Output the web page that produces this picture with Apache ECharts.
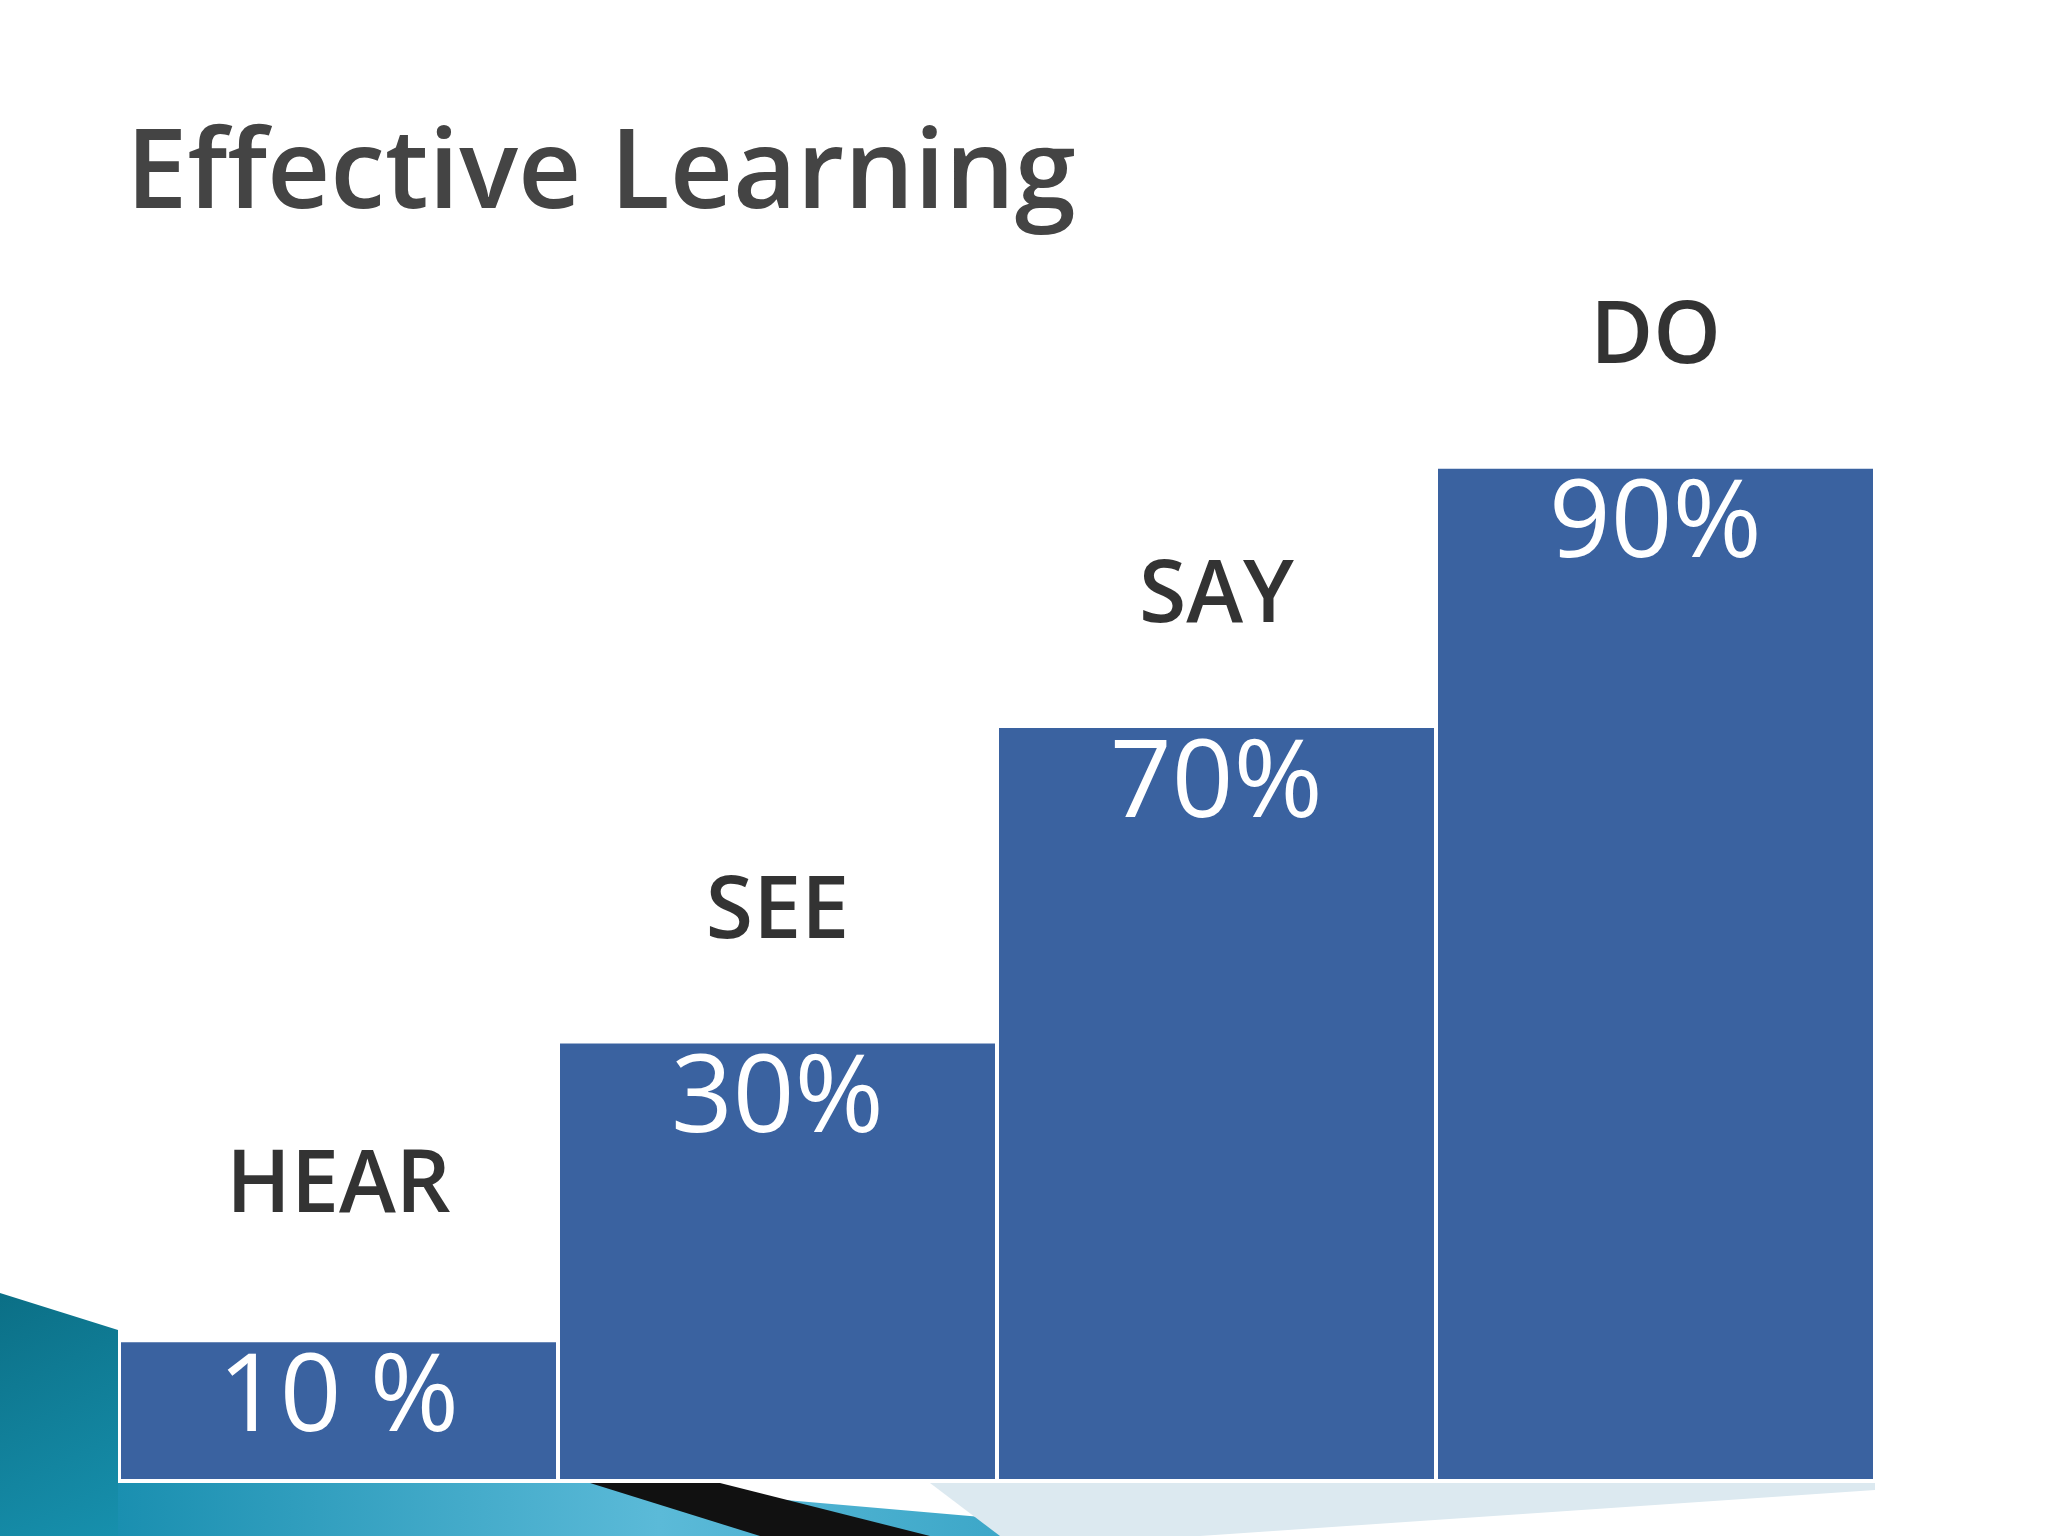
<!DOCTYPE html>
<html><head><meta charset="utf-8">
<script src="https://cdn.jsdelivr.net/npm/echarts@6/dist/echarts.min.js"></script>
<style>html,body{margin:0;padding:0;background:#fff}#c{width:2048px;height:1536px}</style>
</head><body><div id="c"></div>
<script>
const categories = ['HEAR', 'SEE', 'SAY', 'DO'];
const barHeights = [12.5, 39, 67, 90];
const percentLabels = ['10 %', '30%', '70%', '90%'];
const nameGaps = [110, 85, 85, 85];

const chart = echarts.init(document.getElementById('c'));
chart.setOption({
  backgroundColor: '#fff',
  animation: false,
  graphic: [
    { type: 'polygon', z: 0, shape: { points: [[0,1293],[118,1330],[118,1536],[0,1536]] },
      style: { fill: new echarts.graphic.LinearGradient(0,0,1,1,[{offset:0,color:'#0b6f86'},{offset:1,color:'#1790ad'}]) } },
    { type: 'polygon', z: 0, shape: { points: [[118,1483],[590,1483],[1200,1536],[118,1536]] },
      style: { fill: new echarts.graphic.LinearGradient(0,0,1,0,[{offset:0,color:'#1a8fb0'},{offset:0.5,color:'#5bbad8'},{offset:1,color:'#2b9cbf'}]) } },
    { type: 'polygon', z: 0, shape: { points: [[590,1483],[720,1483],[930,1536],[760,1536]] },
      style: { fill: '#111' } },
    { type: 'polygon', z: 0, shape: { points: [[930,1483],[1875,1483],[1875,1490],[1200,1536],[1000,1536]] },
      style: { fill: '#dce9f0' } },
    { type: 'text', left: 126, top: 122,
      style: { text: 'Effective Learning', font: '600 110px "Open Sans", sans-serif', fill: '#444',
        shadowColor: 'rgba(0,0,0,0.4)', shadowBlur: 8, shadowOffsetX: 3, shadowOffsetY: 4 } }
  ],
  grid: { left: 119, width: 1756, bottom: 55, top: 354 },
  xAxis: { type: 'category', data: categories, show: false },
  yAxis: { type: 'value', min: 0, max: 100, show: false },
  series: [
    { type: 'bar', data: barHeights, barCategoryGap: 0,
      itemStyle: { color: '#3A62A0', borderColor: '#fff', borderWidth: 2 },
      label: { show: true, position: 'insideTop', distance: 6,
        formatter: p => percentLabels[p.dataIndex],
        color: '#fff', fontSize: 108, fontFamily: '"Open Sans", sans-serif' } },
    { type: 'scatter', data: barHeights.map((v,i)=>({ value: v,
        label: { distance: nameGaps[i] } })), symbolSize: 0,
      label: { show: true, position: 'top', formatter: p => categories[p.dataIndex],
        color: '#000', fontSize: 86, fontWeight: 600, fontFamily: '"Open Sans", sans-serif' } }
  ]
});
</script></body></html>
